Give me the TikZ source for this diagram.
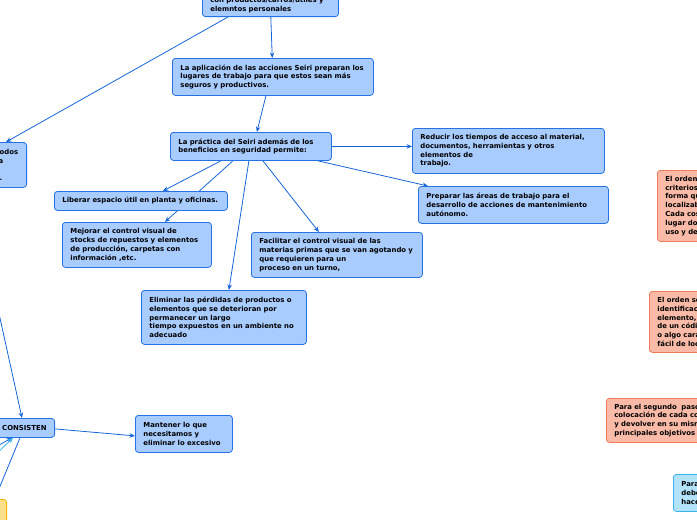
\documentclass[tikz,border=0pt]{standalone}
\usepackage{fontspec}
\usepackage{xcolor}
\usetikzlibrary{arrows.meta}
\newfontfamily\mapfont{DejaVu Sans}
\definecolor{seiri_fill}{RGB}{169,204,255}
\definecolor{seiri_edge}{RGB}{38,114,228}
\definecolor{seiri_line}{RGB}{21,101,216}
\definecolor{orden_fill}{RGB}{249,187,167}
\definecolor{orden_edge}{RGB}{242,122,85}
\definecolor{cian_fill}{RGB}{179,227,250}
\definecolor{cian_edge}{RGB}{56,180,240}
\definecolor{amar_fill}{RGB}{255,224,138}
\definecolor{amar_edge}{RGB}{247,181,0}
\pgfdeclarelayer{background}
\pgfsetlayers{background,main}

\begin{document}
\begin{tikzpicture}[x=1pt, y=-1pt,
    idea/.style={draw=seiri_edge, fill=seiri_fill, rounded corners=3pt,
      line width=0.8pt, align=left, inner xsep=8pt, inner ysep=4pt,
      font=\mapfont\bfseries\fontsize{6.9}{8.8}\selectfont},
    orden/.style={idea, draw=orden_edge, fill=orden_fill},
    cian/.style={idea, draw=cian_edge, fill=cian_fill},
    link/.style={-{Stealth[length=5.5pt,width=4.5pt]}, seiri_line, line width=0.8pt},
    cianlink/.style={link, cian_edge}]
  \useasboundingbox (0,0) rectangle (697,520);
  \clip (0,0) rectangle (697,520);

  % ramas de Seiri
  \node[idea, anchor=south west, text width=120pt] (util) at (202,17)
    {con productos/carros/útiles y\\elemntos personales};
  \node[idea, anchor=north west, text width=185pt, minimum height=37pt] (aplic) at (172,58)
    {La aplicación de las acciones Seiri preparan los\\lugares de trabajo para que estos sean más\\seguros y productivos.};
  \node[idea, anchor=north west, text width=145pt, minimum height=28pt] (practica) at (170,132)
    {La práctica del Seiri además de los\\beneficios en seguridad permite:};
  \node[idea, anchor=north west, text width=176pt, minimum height=45pt] (reducir) at (412,128)
    {Reducir los tiempos de acceso al material,\\documentos, herramientas y otros\\elementos de\\trabajo.};
  \node[idea, anchor=north west, text width=174pt, minimum height=37pt] (preparar) at (418,186)
    {Preparar las áreas de trabajo para el\\desarrollo de acciones de mantenimiento\\autónomo.};
  \node[idea, anchor=north west, text width=157pt, minimum height=19pt] (liberar) at (54,191)
    {Liberar espacio útil en planta y oficinas.};
  \node[idea, anchor=north west, text width=133pt, minimum height=45pt] (mejorar) at (62,222)
    {Mejorar el control visual de\\stocks de repuestos y elementos\\de producción, carpetas con\\ información ,etc.};
  \node[idea, anchor=north west, text width=155pt, minimum height=45pt] (facilitar) at (251,232)
    {Facilitar el control visual de las\\materias primas que se van agotando y\\que requieren para un\\proceso en un turno,};
  \node[idea, anchor=north west, text width=149pt, minimum height=54pt] (eliminar) at (141,290)
    {Eliminar las pérdidas de productos o\\elementos que se deterioran por\\permanecer un largo\\tiempo expuestos en un ambiente no\\adecuado};
  \node[idea, anchor=north east, text width=60pt, minimum height=45pt] (todos) at (27,142)
    {\hspace*{41pt}odos\\\hspace*{40pt}a\\\mbox{}\\\hspace*{41pt}.};
  \node[idea, anchor=north east, text width=70pt, align=right, minimum height=19pt] (consisten) at (55,418)
    {CONSISTEN};
  \node[idea, anchor=north west, text width=81pt, minimum height=37pt] (mantener) at (135,415)
    {Mantener lo que\\necesitamos y\\eliminar lo excesivo};

  % ramas de Seiton
  \node[orden, anchor=north west, text width=110pt, minimum height=71pt] (orden1) at (657,170)
    {El orden se establece con\\criterios racionales, de\\forma que cada cosa sea\\localizable rápidamente.\\Cada cosa tiene su\\lugar donde se necesita,\\uso y de su frecuencia.};
  \node[orden, anchor=north west, text width=110pt, minimum height=61pt] (orden2) at (649,291)
    {El orden se basa en la\\identificación de cada\\elemento, por medio\\de un código, color\\o algo característico\\fácil de localizar.};
  \node[orden, anchor=north west, text width=140pt, minimum height=44pt] (segundo) at (606,398)
    {Para el segundo\ \ paso, la\\colocación de cada cosa\\y devolver en su mismo lugar\\principales objetivos son};
  \node[cian, anchor=north west, text width=80pt, minimum height=37pt] (para) at (673,474)
    {Para esto se\\deben\\hacer};
  \node[idea, draw=amar_edge, fill=amar_fill, anchor=north east,
        minimum width=50pt, minimum height=40pt] (amarillo) at (7,499) {};

  \coordinate (arriba) at (-4,300);
  \coordinate (abajo) at (-4,496);
  \coordinate (cian1) at (-8,449);
  \coordinate (cian2) at (-8,458);

  \begin{pgfonlayer}{background}
    \clip (0,0) rectangle (697,520);
    \draw[link] (util) -- (aplic);
    \draw[link] ([xshift=26pt]util.south west) -- ([xshift=-21pt]todos.north east);
    \draw[link] ([xshift=-7pt]aplic.south) -- ([xshift=6pt]practica.north);
    \draw[link] (practica.east) -- (practica.east -| reducir.west);
    \draw[link] ([xshift=-14pt]practica.south east) -- ([xshift=10pt]preparar.north west);
    \draw[link] ([xshift=-30pt]practica.south) -- ([xshift=22pt]liberar.north);
    \draw[link] ([xshift=-18pt]practica.south) -- ([xshift=28pt]mejorar.north);
    \draw[link] ([xshift=-2pt]practica.south) -- ([xshift=5pt]eliminar.north);
    \draw[link] ([xshift=12pt]practica.south) -- ([xshift=-18pt]facilitar.north);
    \draw[link] (arriba) -- ([xshift=-33pt]consisten.north east);
    \draw[link] ([yshift=-1pt]consisten.east) -- ([yshift=-2pt]mantener.west);
    \draw[link] ([xshift=-35pt]consisten.south east) -- (abajo);
    \draw[link] (cian1) -- ([xshift=-43pt]consisten.south east);
    \draw[cianlink] (cian2) -- ([xshift=-42pt]consisten.south east);
  \end{pgfonlayer}
\end{tikzpicture}
\end{document}
